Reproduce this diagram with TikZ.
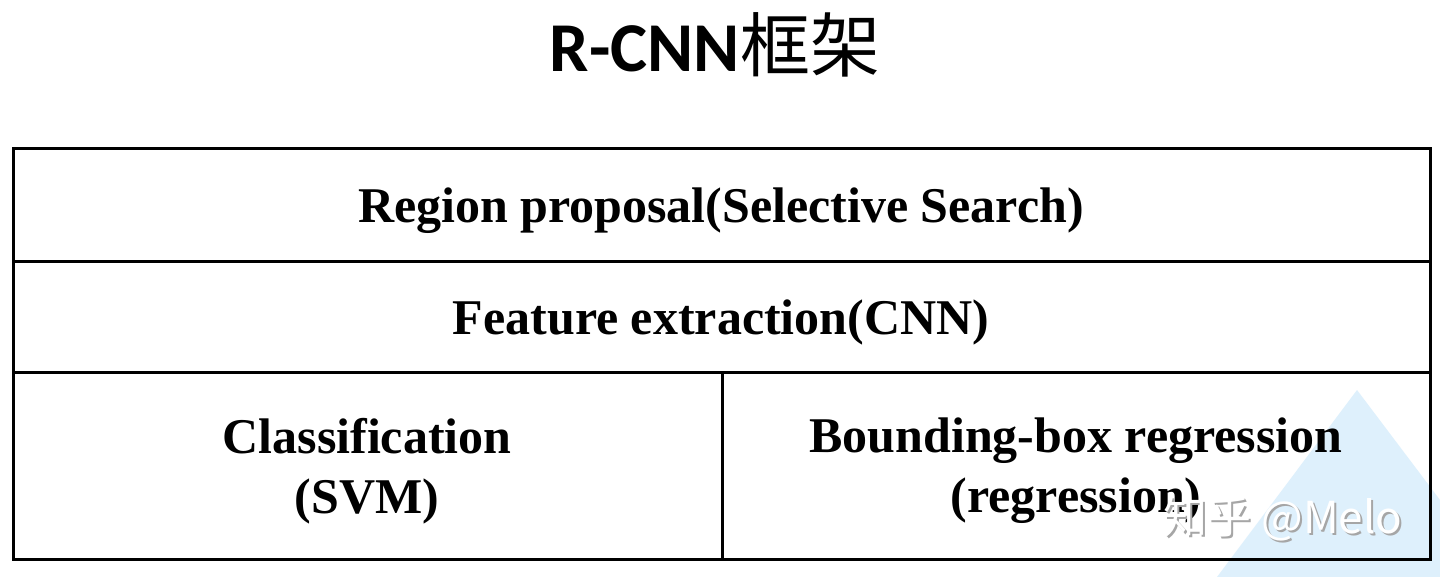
\documentclass[tikz,border=0pt]{standalone}
\usepackage{fontspec}
\setmainfont{Liberation Serif}
\newfontfamily\titlefont{Carlito}
\newfontfamily\cjkfont{Noto Sans CJK SC}
\definecolor{tribg}{RGB}{222,240,252}
\begin{document}
\begin{tikzpicture}[x=0.5pt,y=-0.5pt,
  cell/.style={font=\fontsize{25}{30}\selectfont\bfseries, align=center, inner sep=0pt},
  rule/.style={line width=1.5pt, line cap=rect}]
\useasboundingbox (0,0) rectangle (1440,577);
\fill[white] (0,0) rectangle (1440,577);
% light blue background triangle
\fill[tribg] (1357,390) -- (1440,500) -- (1440,577) -- (1217,577) -- cycle;
% title
\node[inner sep=0pt] (title) at (715,45) {\titlefont\fontsize{35}{40}\selectfont\bfseries R-CNN\cjkfont\mdseries 框架};
% table frame
\coordinate (tl) at (13,149);
\coordinate (br) at (1430,559);
\draw[rule] (tl) rectangle (br);
\coordinate (r1l) at (13,262); \coordinate (r1r) at (1430,262);
\coordinate (r2l) at (13,372); \coordinate (r2r) at (1430,372);
\coordinate (vt) at (722,372); \coordinate (vb) at (722,559);
\draw[rule] (r1l) -- (r1r);
\draw[rule] (r2l) -- (r2r);
\draw[rule] (vt) -- (vb);
% texts
\node[cell] (rp) at (721,211) {Region proposal(Selective Search)};
\node[cell] (fe) at (721,322) {Feature extraction(CNN)};
\node[cell] (cl) at (367,471) {Classification\\(SVM)};
\node[cell] (bb) at (1076,471) {Bounding-box regression\\(regression)};
% watermark
\node[inner sep=0pt, text=black!35] (wm0) at (1285,521) {\cjkfont\fontsize{22}{26}\selectfont 知乎 @Melo};
\node[inner sep=0pt, text=white] (wm) at (1283,519) {\cjkfont\fontsize{22}{26}\selectfont 知乎 @Melo};
\end{tikzpicture}
\end{document}
